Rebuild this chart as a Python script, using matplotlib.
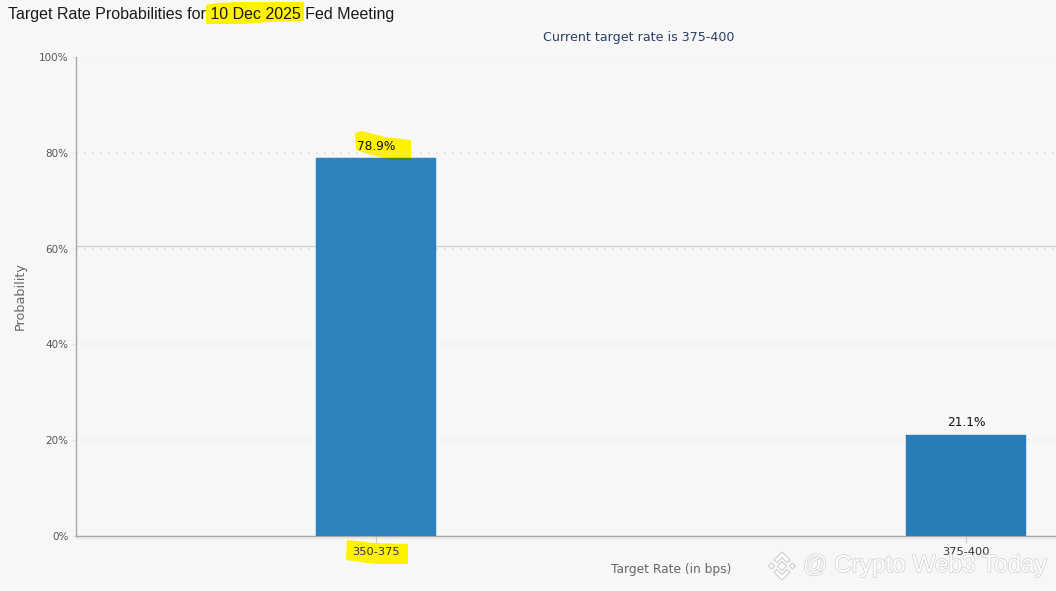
import matplotlib
matplotlib.use('Agg')
import matplotlib.pyplot as plt
import matplotlib.patheffects as pe
from matplotlib.lines import Line2D
from matplotlib.patches import Polygon
from matplotlib.transforms import Affine2D

# values
rates = ['350-375', '375-400']
probabilities = [78.9, 21.1]
bar_colors = ['#2e83bd', '#297db6']
y_ticks = [0, 20, 40, 60, 80, 100]

W, H = 1056, 591
BG = '#f7f7f7'
YELLOW = '#fff200'

fig = plt.figure(figsize=(W / 100, H / 100), dpi=100, facecolor=BG)

# overlays are placed in screen pixels, origin top left
to_fig = Affine2D().scale(1 / W, -1 / H).translate(0, 1) + fig.transFigure


def mark(points, color, z=-1, edge='none', lw=0):
    fig.add_artist(Polygon(points, closed=True, facecolor=color, edgecolor=edge, linewidth=lw,
                           transform=to_fig, zorder=z))


def label(x, y, s, **kw):
    kw.setdefault('ha', 'center')
    kw.setdefault('va', 'center')
    kw.setdefault('zorder', 6)
    fig.text(x, y, s, transform=to_fig, **kw)


ax = fig.add_axes([75.5 / W, 1 - 536 / H, (W - 75.5) / W, 479 / H])
# transparent so the highlights underneath stay visible
ax.patch.set_visible(False)
ax.set_xlim(-0.5093, 1.1525)
ax.set_ylim(0, 100)

for s in ['top', 'right']:
    ax.spines[s].set_visible(False)
ax.spines['left'].set_color('#a8a8a8')
ax.spines['bottom'].set_color('#a8a8a8')
ax.spines['left'].set_linewidth(1.0)
ax.spines['bottom'].set_linewidth(1.0)

ax.yaxis.grid(True, color='#dcdcdc', linewidth=1.2, linestyle=(0, (1, 3.8)))
ax.set_axisbelow(True)
ax.set_yticks(y_ticks)
ax.set_yticklabels([f'{t}%' for t in y_ticks], fontsize=7.5, color='#555555')
ax.tick_params(axis='y', length=3, color='#e6e6e6', pad=2)
ax.set_xticks(range(len(rates)))
ax.set_xticklabels(rates, fontsize=8.2, color='#333333')
ax.tick_params(axis='x', length=5, color='#c8c8c8', pad=3)

bars = ax.bar(range(len(rates)), probabilities, width=0.2025, color=bar_colors,
              edgecolor=bar_colors, linewidth=0.3, joinstyle='round', zorder=3)
for rect, v in zip(bars, probabilities):
    ax.annotate(f'{v:.1f}%', (rect.get_x() + rect.get_width() / 2, v), xytext=(0, 4),
                textcoords='offset points', ha='center', va='bottom', fontsize=8.7,
                color='#111111', annotation_clip=False)

# pale rules running across the chart, behind the bars
fig.add_artist(Line2D([75.5, W], [246, 246], color='#cfcfcf', linewidth=0.9, transform=to_fig, zorder=-1))
fig.add_artist(Line2D([75.5, W], [538, 538], color='#e6e6e6', linewidth=0.8, transform=to_fig, zorder=-1))

# marker highlights
mark([(206, 5), (215, 3), (240, 2), (304, 2), (304, 21), (270, 22), (240, 24), (206, 24)], YELLOW)
mark([(355, 133), (362, 131), (385, 137), (411, 140), (411, 159), (385, 158), (368, 154), (356, 150)], YELLOW)
mark([(385, 158), (411, 158), (411, 159.5), (392, 159.5)], '#3c8a2e', z=5)
mark([(347, 540), (375, 543), (408, 544), (408, 564), (375, 564), (346, 560)], YELLOW)

# headings
label(8, 15, 'Target Rate Probabilities for 10 Dec 2025 Fed Meeting', ha='left',
      family='Liberation Sans', fontsize=11.5, color='#1a1a1a')
label(638.5, 38, 'Current target rate is 375-400', fontsize=9.1, color='#2b3f63')
label(671.5, 570, 'Target Rate (in bps)', fontsize=8.8, color='#666666')
label(20, 296.5, 'Probability', rotation=90, fontsize=9.2, color='#666666')

# watermark
outline = [pe.withStroke(linewidth=1.0, foreground='#cfcfcf')]
label(924.5, 566, '@ Crypto Web3 Today', fontsize=17.5, color='white', family='Liberation Sans',
      path_effects=outline, zorder=8)


def diamond(cx, cy, r):
    return [(cx - r, cy), (cx, cy - r), (cx + r, cy), (cx, cy + r)]


logo_x, logo_y = 782, 566
for dx, r in [(0, 4.5), (-10.5, 3), (10.5, 3)]:
    mark(diamond(logo_x + dx, logo_y, r), 'white', z=8, edge='#c8c8c8', lw=0.7)
# upper and lower chevrons of the logo
for sign in (-1, 1):
    chevron = [(logo_x - 8, logo_y + sign * 6), (logo_x, logo_y + sign * 14), (logo_x + 8, logo_y + sign * 6),
               (logo_x + 5, logo_y + sign * 3.5), (logo_x, logo_y + sign * 8.5), (logo_x - 5, logo_y + sign * 3.5)]
    mark(chevron, 'white', z=8, edge='#c8c8c8', lw=0.7)

fig.savefig('out.png', dpi=100, facecolor=BG)
